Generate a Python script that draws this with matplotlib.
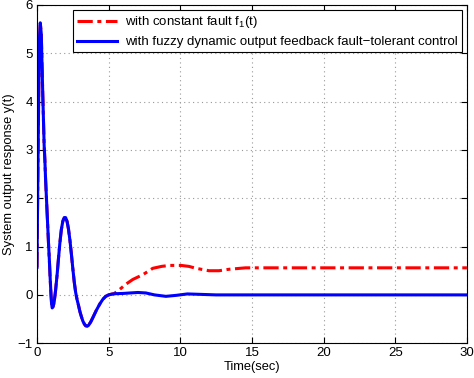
import matplotlib
matplotlib.use('Agg')
import matplotlib.pyplot as plt

plt.rcParams['font.family'] = ['Liberation Sans', 'DejaVu Sans']
plt.rcParams['mathtext.fontset'] = 'custom'
plt.rcParams['mathtext.rm'] = 'Liberation Sans'

# Transient shared by both responses
t_early = [0.0, 0.08, 0.16, 0.23, 0.3, 0.4, 0.5, 0.55, 0.6, 0.7, 0.8, 0.86,
           0.92, 0.98, 1.02, 1.06, 1.12, 1.2, 1.3, 1.4, 1.5, 1.6, 1.7, 1.8,
           1.9, 2.0, 2.1, 2.2, 2.3, 2.4, 2.5, 2.6, 2.7, 2.8, 2.9, 3.0, 3.1,
           3.2, 3.3, 3.4, 3.5, 3.6, 3.75, 3.9, 4.14, 4.4, 4.6, 4.8, 5.0, 5.2]
y_early = [0.57, 3.0, 5.2, 5.63, 5.4, 4.2, 3.1, 2.8, 2.4, 1.75, 1.1, 0.75,
           0.35, 0.0, -0.18, -0.27, -0.25, -0.15, 0.1, 0.4, 0.75, 1.08, 1.35, 1.52,
           1.6, 1.6, 1.52, 1.36, 1.13, 0.85, 0.55, 0.27, 0.05, -0.1, -0.22, -0.35, -0.45,
           -0.54, -0.6, -0.64, -0.65, -0.63, -0.56, -0.47, -0.32, -0.18, -0.09, -0.03, 0.0, 0.015]

# Fault-tolerant (blue) tail
t_ftc = [5.5, 6.0, 6.5, 7.04, 7.6, 8.2, 9.0, 9.7, 10.5, 11.5, 12.5, 14.0, 30.0]
y_ftc = [0.025, 0.03, 0.04, 0.05, 0.04, 0.0, -0.03, -0.01, 0.02, 0.01, 0.0, 0.0, 0.0]

# Constant-fault (red) tail
t_fault = [5.4, 5.76, 6.2, 6.69, 7.4, 8.08, 8.7, 9.24, 10.05, 10.6, 11.1, 12.0,
           12.7, 13.4, 14.56, 16.0, 30.0]
y_fault = [0.03, 0.11, 0.22, 0.32, 0.42, 0.55, 0.59, 0.61, 0.61, 0.59, 0.55, 0.5,
           0.5, 0.53, 0.56, 0.56, 0.56]

fig = plt.figure(figsize=(4.74, 3.78), dpi=100)
ax = fig.add_axes([0.078, 0.092, 0.907, 0.895])

ax.plot(t_early + t_fault, y_early + y_fault, color='#ff0000', linestyle='-.',
        lw=2.2, dashes=(5, 1.5, 1.3, 1.5), label='with constant fault f$_1$(t)')
ax.plot(t_early + t_ftc, y_early + y_ftc, color='#0000ff', lw=2.2,
        label='with fuzzy dynamic output feedback fault\u2212tolerant control')

ax.set_xlim(0, 30)
ax.set_ylim(-1, 6)
ax.set_xticks(range(0, 31, 5))
ax.set_yticks(range(-1, 7))
ax.tick_params(direction='in', top=True, right=True, labelsize=9.5, length=4, pad=3)
ax.grid(True, linestyle=(0, (1, 3)), color='#999999', lw=0.8)
for s in ax.spines.values():
    s.set_linewidth(0.8)

ax.set_xlabel('Time(sec)', fontsize=9.3, labelpad=1)
ax.set_ylabel('System output response y(t)', fontsize=9.3, labelpad=2)

leg = ax.legend(loc='upper right', fontsize=9.5, fancybox=False, framealpha=1,
                edgecolor='black', handlelength=3.0, borderaxespad=0.4,
                borderpad=0.3, labelspacing=0.45, handletextpad=0.6)
leg.get_frame().set_linewidth(0.8)

plt.savefig('out.png', dpi=100)
plt.close()
